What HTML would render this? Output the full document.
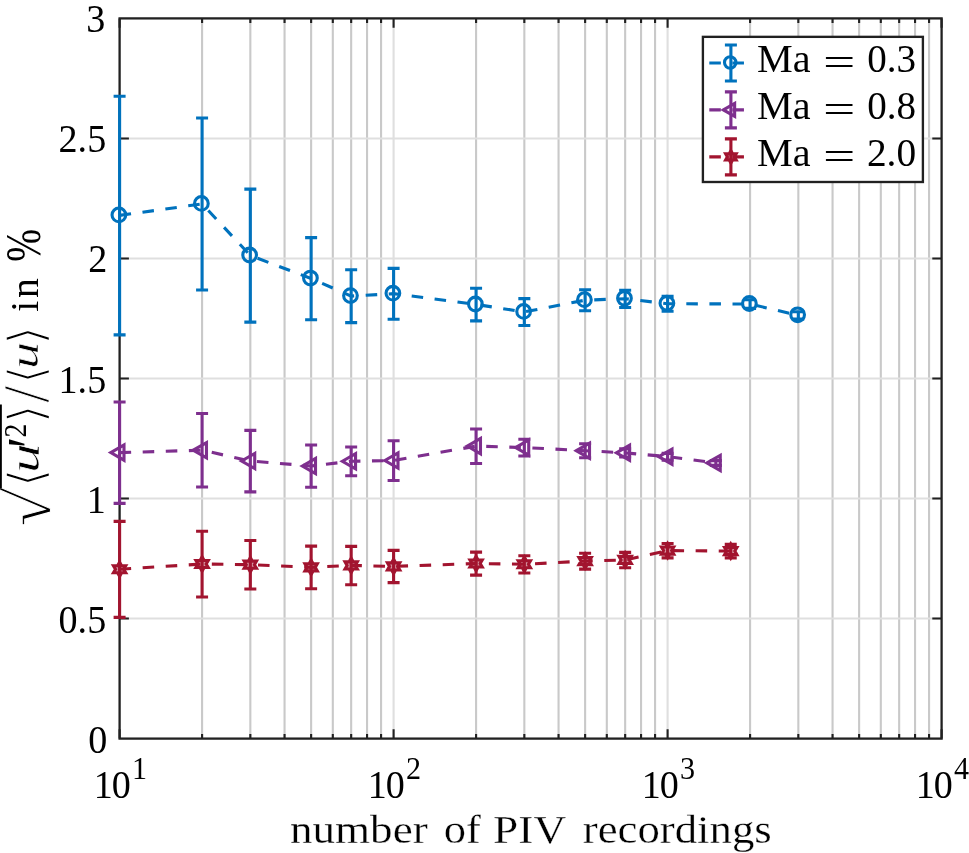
<!DOCTYPE html>
<html><head><meta charset="utf-8"><title>PIV convergence plot</title>
<style>html,body{margin:0;padding:0;background:#fff}svg{display:block}</style></head>
<body>
<svg width="969" height="853" viewBox="0 0 969 853">
<rect width="969" height="853" fill="#fff"/>
<path d="M202.08 18.4V738.6M250.33 18.4V738.6M284.56 18.4V738.6M311.12 18.4V738.6M332.81 18.4V738.6M351.16 18.4V738.6M367.05 18.4V738.6M381.06 18.4V738.6M476.08 18.4V738.6M524.33 18.4V738.6M558.56 18.4V738.6M585.12 18.4V738.6M606.81 18.4V738.6M625.16 18.4V738.6M641.05 18.4V738.6M655.06 18.4V738.6M750.08 18.4V738.6M798.33 18.4V738.6M832.56 18.4V738.6M859.12 18.4V738.6M880.81 18.4V738.6M899.16 18.4V738.6M915.05 18.4V738.6M929.06 18.4V738.6" stroke="#c9c9c9" stroke-width="2.1" fill="none"/>
<path d="M393.6 18.4V738.6M667.6 18.4V738.6M119.6 618.57H941.6M119.6 498.53H941.6M119.6 378.5H941.6M119.6 258.47H941.6M119.6 138.43H941.6" stroke="#dfdfdf" stroke-width="2.1" fill="none"/>
<path d="M202.08 738.6v-4.65M202.08 18.4v4.65M250.33 738.6v-4.65M250.33 18.4v4.65M284.56 738.6v-4.65M284.56 18.4v4.65M311.12 738.6v-4.65M311.12 18.4v4.65M332.81 738.6v-4.65M332.81 18.4v4.65M351.16 738.6v-4.65M351.16 18.4v4.65M367.05 738.6v-4.65M367.05 18.4v4.65M381.06 738.6v-4.65M381.06 18.4v4.65M476.08 738.6v-4.65M476.08 18.4v4.65M524.33 738.6v-4.65M524.33 18.4v4.65M558.56 738.6v-4.65M558.56 18.4v4.65M585.12 738.6v-4.65M585.12 18.4v4.65M606.81 738.6v-4.65M606.81 18.4v4.65M625.16 738.6v-4.65M625.16 18.4v4.65M641.05 738.6v-4.65M641.05 18.4v4.65M655.06 738.6v-4.65M655.06 18.4v4.65M750.08 738.6v-4.65M750.08 18.4v4.65M798.33 738.6v-4.65M798.33 18.4v4.65M832.56 738.6v-4.65M832.56 18.4v4.65M859.12 738.6v-4.65M859.12 18.4v4.65M880.81 738.6v-4.65M880.81 18.4v4.65M899.16 738.6v-4.65M899.16 18.4v4.65M915.05 738.6v-4.65M915.05 18.4v4.65M929.06 738.6v-4.65M929.06 18.4v4.65M119.6 738.6v-9.3M119.6 18.4v9.3M393.6 738.6v-9.3M393.6 18.4v9.3M667.6 738.6v-9.3M667.6 18.4v9.3M941.6 738.6v-9.3M941.6 18.4v9.3M119.6 618.57h9.3M941.6 618.57h-9.3M119.6 498.53h9.3M941.6 498.53h-9.3M119.6 378.5h9.3M941.6 378.5h-9.3M119.6 258.47h9.3M941.6 258.47h-9.3M119.6 138.43h9.3M941.6 138.43h-9.3" stroke="#212121" stroke-width="2.1" fill="none"/>
<rect x="119.6" y="18.4" width="822" height="720.2" fill="none" stroke="#212121" stroke-width="2.3"/>
<path d="M119.6 96.2V334.83M113.6 96.2H125.6M113.6 334.83H125.6M202.08 118.05V289.94M196.08 118.05H208.08M196.08 289.94H208.08M250.33 189.11V322.1M244.33 189.11H256.33M244.33 322.1H256.33M311.12 237.6V319.7M305.12 237.6H317.12M305.12 319.7H317.12M351.16 269.77V322.58M345.16 269.77H357.16M345.16 322.58H357.16M393.6 268.33V319.22M387.6 268.33H399.6M387.6 319.22H399.6M476.08 288.25V320.9M470.08 288.25H482.08M470.08 320.9H482.08M524.33 298.58V325.47M518.33 298.58H530.33M518.33 325.47H530.33M585.12 289.7V310.82M579.12 289.7H591.12M579.12 310.82H591.12M625.16 290.18V307.46M619.16 290.18H631.16M619.16 307.46H631.16M667.6 296.42V311.3M661.6 296.42H673.6M661.6 311.3H673.6M750.08 299.78V308.42M744.08 299.78H756.08M744.08 308.42H756.08M798.33 311.78V318.98M792.33 311.78H804.33M792.33 318.98H804.33" fill="none" stroke="#0072BD" stroke-width="3.1"/>
<polyline points="119.6,215.41 202.08,203.89 250.33,255.51 311.12,278.55 351.16,296.08 393.6,293.68 476.08,304.48 524.33,311.92 585.12,300.16 625.16,298.72 667.6,303.76 750.08,304 798.33,315.28" fill="none" stroke="#0072BD" stroke-width="3.1" stroke-dasharray="11.55 11.55"/>
<circle cx="118.9" cy="214.91" r="6.85" fill="none" stroke="#0072BD" stroke-width="3.1"/>
<circle cx="201.38" cy="203.39" r="6.85" fill="none" stroke="#0072BD" stroke-width="3.1"/>
<circle cx="249.63" cy="255.01" r="6.85" fill="none" stroke="#0072BD" stroke-width="3.1"/>
<circle cx="310.42" cy="278.05" r="6.85" fill="none" stroke="#0072BD" stroke-width="3.1"/>
<circle cx="350.46" cy="295.58" r="6.85" fill="none" stroke="#0072BD" stroke-width="3.1"/>
<circle cx="392.9" cy="293.18" r="6.85" fill="none" stroke="#0072BD" stroke-width="3.1"/>
<circle cx="475.38" cy="303.98" r="6.85" fill="none" stroke="#0072BD" stroke-width="3.1"/>
<circle cx="523.63" cy="311.42" r="6.85" fill="none" stroke="#0072BD" stroke-width="3.1"/>
<circle cx="584.42" cy="299.66" r="6.85" fill="none" stroke="#0072BD" stroke-width="3.1"/>
<circle cx="624.46" cy="298.22" r="6.85" fill="none" stroke="#0072BD" stroke-width="3.1"/>
<circle cx="666.9" cy="303.26" r="6.85" fill="none" stroke="#0072BD" stroke-width="3.1"/>
<circle cx="749.38" cy="303.5" r="6.85" fill="none" stroke="#0072BD" stroke-width="3.1"/>
<circle cx="797.63" cy="314.78" r="6.85" fill="none" stroke="#0072BD" stroke-width="3.1"/>
<path d="M119.6 402.05V503.35M113.6 402.05H125.6M113.6 503.35H125.6M202.08 413.57V487.03M196.08 413.57H208.08M196.08 487.03H208.08M250.33 430.37V491.83M244.33 430.37H256.33M244.33 491.83H256.33M311.12 445.02V487.27M305.12 445.02H317.12M305.12 487.27H317.12M351.16 446.94V475.75M345.16 446.94H357.16M345.16 475.75H357.16M393.6 440.7V480.55M387.6 440.7H399.6M387.6 480.55H399.6M476.08 428.93V463.5M470.08 428.93H482.08M470.08 463.5H482.08M524.33 439.26V456.06M518.33 439.26H530.33M518.33 456.06H530.33M585.12 443.82V457.74M579.12 443.82H591.12M579.12 457.74H591.12M625.16 448.86V457.02M619.16 448.86H631.16M619.16 457.02H631.16M667.6 453.42V460.14M661.6 453.42H673.6M661.6 460.14H673.6M715.85 460.62V465.42M709.85 460.62H721.85M709.85 465.42H721.85" fill="none" stroke="#7E2F8E" stroke-width="3.1"/>
<polyline points="119.6,452.6 202.08,450.2 250.33,461 311.12,466.04 351.16,461.24 393.6,460.52 476.08,446.12 524.33,447.56 585.12,450.68 625.16,452.84 667.6,456.68 715.85,462.92" fill="none" stroke="#7E2F8E" stroke-width="3.1" stroke-dasharray="11.55 11.55"/>
<path d="M110.8 452.6L124 445L124 460.2Z" fill="none" stroke="#7E2F8E" stroke-width="3.1" stroke-linejoin="miter"/>
<path d="M193.28 450.2L206.48 442.6L206.48 457.8Z" fill="none" stroke="#7E2F8E" stroke-width="3.1" stroke-linejoin="miter"/>
<path d="M241.53 461L254.73 453.4L254.73 468.6Z" fill="none" stroke="#7E2F8E" stroke-width="3.1" stroke-linejoin="miter"/>
<path d="M302.32 466.04L315.52 458.44L315.52 473.64Z" fill="none" stroke="#7E2F8E" stroke-width="3.1" stroke-linejoin="miter"/>
<path d="M342.36 461.24L355.56 453.64L355.56 468.84Z" fill="none" stroke="#7E2F8E" stroke-width="3.1" stroke-linejoin="miter"/>
<path d="M384.8 460.52L398 452.92L398 468.12Z" fill="none" stroke="#7E2F8E" stroke-width="3.1" stroke-linejoin="miter"/>
<path d="M467.28 446.12L480.48 438.52L480.48 453.72Z" fill="none" stroke="#7E2F8E" stroke-width="3.1" stroke-linejoin="miter"/>
<path d="M515.53 447.56L528.73 439.96L528.73 455.16Z" fill="none" stroke="#7E2F8E" stroke-width="3.1" stroke-linejoin="miter"/>
<path d="M576.32 450.68L589.52 443.08L589.52 458.28Z" fill="none" stroke="#7E2F8E" stroke-width="3.1" stroke-linejoin="miter"/>
<path d="M616.36 452.84L629.56 445.24L629.56 460.44Z" fill="none" stroke="#7E2F8E" stroke-width="3.1" stroke-linejoin="miter"/>
<path d="M658.8 456.68L672 449.08L672 464.28Z" fill="none" stroke="#7E2F8E" stroke-width="3.1" stroke-linejoin="miter"/>
<path d="M707.05 462.92L720.25 455.32L720.25 470.52Z" fill="none" stroke="#7E2F8E" stroke-width="3.1" stroke-linejoin="miter"/>
<path d="M119.6 521.36V617.39M113.6 521.36H125.6M113.6 617.39H125.6M202.08 531.2V596.98M196.08 531.2H208.08M196.08 596.98H208.08M250.33 540.56V589.06M244.33 540.56H256.33M244.33 589.06H256.33M311.12 546.09V588.82M305.12 546.09H317.12M305.12 588.82H317.12M351.16 546.33V584.74M345.16 546.33H357.16M345.16 584.74H357.16M393.6 550.41V582.58M387.6 550.41H399.6M387.6 582.58H399.6M476.08 552.09V575.13M470.08 552.09H482.08M470.08 575.13H482.08M524.33 555.69V572.97M518.33 555.69H530.33M518.33 572.97H530.33M585.12 553.29V569.13M579.12 553.29H591.12M579.12 569.13H591.12M625.16 552.33V567.69M619.16 552.33H631.16M619.16 567.69H631.16M667.6 543.45V557.85M661.6 543.45H673.6M661.6 557.85H673.6M730.74 544.41V557.85M724.74 544.41H736.74M724.74 557.85H736.74" fill="none" stroke="#A2142F" stroke-width="3.1"/>
<polyline points="119.6,569.27 202.08,563.99 250.33,564.71 311.12,567.35 351.16,565.43 393.6,566.39 476.08,563.51 524.33,564.23 585.12,561.11 625.16,559.91 667.6,550.55 730.74,551.03" fill="none" stroke="#A2142F" stroke-width="3.1" stroke-dasharray="11.55 11.55"/>
<path d="M119.6 562.17L121.65 565.72L125.75 565.72L123.7 569.27L125.75 572.82L121.65 572.82L119.6 576.37L117.55 572.82L113.45 572.82L115.5 569.27L113.45 565.72L117.55 565.72Z" fill="#A2142F" fill-opacity="0.45" stroke="#A2142F" stroke-width="3.1" stroke-linejoin="miter"/>
<path d="M202.08 556.89L204.13 560.44L208.23 560.44L206.18 563.99L208.23 567.54L204.13 567.54L202.08 571.09L200.03 567.54L195.93 567.54L197.98 563.99L195.93 560.44L200.03 560.44Z" fill="#A2142F" fill-opacity="0.45" stroke="#A2142F" stroke-width="3.1" stroke-linejoin="miter"/>
<path d="M250.33 557.61L252.38 561.16L256.48 561.16L254.43 564.71L256.48 568.26L252.38 568.26L250.33 571.81L248.28 568.26L244.18 568.26L246.23 564.71L244.18 561.16L248.28 561.16Z" fill="#A2142F" fill-opacity="0.45" stroke="#A2142F" stroke-width="3.1" stroke-linejoin="miter"/>
<path d="M311.12 560.25L313.17 563.8L317.27 563.8L315.22 567.35L317.27 570.9L313.17 570.9L311.12 574.45L309.07 570.9L304.97 570.9L307.02 567.35L304.97 563.8L309.07 563.8Z" fill="#A2142F" fill-opacity="0.45" stroke="#A2142F" stroke-width="3.1" stroke-linejoin="miter"/>
<path d="M351.16 558.33L353.21 561.88L357.31 561.88L355.26 565.43L357.31 568.98L353.21 568.98L351.16 572.53L349.11 568.98L345.01 568.98L347.06 565.43L345.01 561.88L349.11 561.88Z" fill="#A2142F" fill-opacity="0.45" stroke="#A2142F" stroke-width="3.1" stroke-linejoin="miter"/>
<path d="M393.6 559.29L395.65 562.84L399.75 562.84L397.7 566.39L399.75 569.94L395.65 569.94L393.6 573.49L391.55 569.94L387.45 569.94L389.5 566.39L387.45 562.84L391.55 562.84Z" fill="#A2142F" fill-opacity="0.45" stroke="#A2142F" stroke-width="3.1" stroke-linejoin="miter"/>
<path d="M476.08 556.41L478.13 559.96L482.23 559.96L480.18 563.51L482.23 567.06L478.13 567.06L476.08 570.61L474.03 567.06L469.93 567.06L471.98 563.51L469.93 559.96L474.03 559.96Z" fill="#A2142F" fill-opacity="0.45" stroke="#A2142F" stroke-width="3.1" stroke-linejoin="miter"/>
<path d="M524.33 557.13L526.38 560.68L530.48 560.68L528.43 564.23L530.48 567.78L526.38 567.78L524.33 571.33L522.28 567.78L518.18 567.78L520.23 564.23L518.18 560.68L522.28 560.68Z" fill="#A2142F" fill-opacity="0.45" stroke="#A2142F" stroke-width="3.1" stroke-linejoin="miter"/>
<path d="M585.12 554.01L587.17 557.56L591.27 557.56L589.22 561.11L591.27 564.66L587.17 564.66L585.12 568.21L583.07 564.66L578.97 564.66L581.02 561.11L578.97 557.56L583.07 557.56Z" fill="#A2142F" fill-opacity="0.45" stroke="#A2142F" stroke-width="3.1" stroke-linejoin="miter"/>
<path d="M625.16 552.81L627.21 556.36L631.31 556.36L629.26 559.91L631.31 563.46L627.21 563.46L625.16 567.01L623.11 563.46L619.01 563.46L621.06 559.91L619.01 556.36L623.11 556.36Z" fill="#A2142F" fill-opacity="0.45" stroke="#A2142F" stroke-width="3.1" stroke-linejoin="miter"/>
<path d="M667.6 543.45L669.65 547L673.75 547L671.7 550.55L673.75 554.1L669.65 554.1L667.6 557.65L665.55 554.1L661.45 554.1L663.5 550.55L661.45 547L665.55 547Z" fill="#A2142F" fill-opacity="0.45" stroke="#A2142F" stroke-width="3.1" stroke-linejoin="miter"/>
<path d="M730.74 543.93L732.79 547.48L736.89 547.48L734.84 551.03L736.89 554.58L732.79 554.58L730.74 558.13L728.69 554.58L724.59 554.58L726.64 551.03L724.59 547.48L728.69 547.48Z" fill="#A2142F" fill-opacity="0.45" stroke="#A2142F" stroke-width="3.1" stroke-linejoin="miter"/>
<g font-family="'Liberation Serif', 'DejaVu Serif', serif" font-size="39.2" fill="#000">
<text transform="translate(107.2 752.6) scale(0.972 1)" text-anchor="end">0</text>
<text transform="translate(106.2 632.57) scale(0.972 1)" text-anchor="end">0.5</text>
<text transform="translate(105.7 512.53) scale(0.972 1)" text-anchor="end">1</text>
<text transform="translate(106.2 392.5) scale(0.972 1)" text-anchor="end">1.5</text>
<text transform="translate(107.4 272.47) scale(0.972 1)" text-anchor="end">2</text>
<text transform="translate(106.2 152.43) scale(0.972 1)" text-anchor="end">2.5</text>
<text transform="translate(105.4 32.4) scale(0.972 1)" text-anchor="end">3</text>
<text transform="translate(93.8 797.9) scale(0.972 1)" letter-spacing="-1">10<tspan font-size="31" dy="-19.1" dx="2.2">1</tspan></text>
<text transform="translate(367.8 797.9) scale(0.972 1)" letter-spacing="-1">10<tspan font-size="31" dy="-19.1" dx="2.2">2</tspan></text>
<text transform="translate(641.8 797.9) scale(0.972 1)" letter-spacing="-1">10<tspan font-size="31" dy="-19.1" dx="2.2">3</tspan></text>
<text transform="translate(915.8 797.9) scale(0.972 1)" letter-spacing="-1">10<tspan font-size="31" dy="-19.1" dx="2.2">4</tspan></text>
</g>
<g font-family="'Liberation Serif', 'DejaVu Serif', serif" font-size="39.6" fill="#000" stroke="#fff" stroke-width="0.3">
<text transform="translate(289.9 843.4) scale(1.1394 1)">number</text>
<text transform="translate(443.76 843.4) scale(1.1255 1)">of</text>
<text transform="translate(492.99 843.4) scale(1.1474 1)">PIV</text>
<text transform="translate(582.8 843.4) scale(1.1306 1)">recordings</text>
</g>
<g transform="rotate(-90)" font-family="'Liberation Serif', 'DejaVu Serif', serif" font-size="39.6" fill="#000">
<text transform="matrix(1.2923 0 -0.1267 1.2242 -529.03 50.35)" font-size="52" stroke="#fff" stroke-width="0.8">√</text>
<path d="M-488.2 0.9H-404.5" stroke="#000" stroke-width="1.9" fill="none"/>
<text transform="translate(-487.36 43.06) scale(1.1809 1.1990)" font-family="'DejaVu Serif', 'DejaVu Sans', serif" font-size="41" stroke="#fff" stroke-width="1.5">⟨</text>
<text transform="translate(-473.28 39.04) scale(1.4640 1.0797)" font-family="'Liberation Serif', 'DejaVu Serif', serif" font-size="41" font-style="italic" stroke="#fff" stroke-width="0.55">u</text>
<text transform="translate(-448.31 51.74) scale(1.3008 1.5880)" font-family="'Liberation Serif', 'DejaVu Serif', serif" font-size="41">′</text>
<text transform="translate(-437.42 26.20) scale(0.8650 1.0008)" font-family="'Liberation Serif', 'DejaVu Serif', serif" font-size="32">2</text>
<text transform="translate(-423.50 43.06) scale(1.2030 1.1990)" font-family="'DejaVu Serif', 'DejaVu Sans', serif" font-size="41" stroke="#fff" stroke-width="1.5">⟩</text>
<text transform="translate(-402.80 48.45) scale(1.0192 1.0837)" font-family="'Liberation Serif', 'DejaVu Serif', serif" font-size="60" stroke="#fff" stroke-width="0.8">/</text>
<text transform="translate(-383.64 42.85) scale(1.1478 1.2017)" font-family="'DejaVu Serif', 'DejaVu Sans', serif" font-size="41" stroke="#fff" stroke-width="1.5">⟨</text>
<text transform="translate(-368.89 38.46) scale(1.3226 1.0486)" font-family="'Liberation Serif', 'DejaVu Serif', serif" font-size="41" font-style="italic" stroke="#fff" stroke-width="0.55">u</text>
<text transform="translate(-345.10 42.85) scale(1.2030 1.2017)" font-family="'DejaVu Serif', 'DejaVu Sans', serif" font-size="41" stroke="#fff" stroke-width="1.5">⟩</text>
<text x="-311.7" y="37.9" textLength="33.4" lengthAdjust="spacing">in</text>
<text transform="translate(-261.74 39.74) scale(0.9597 1.2339)" font-family="'Liberation Serif', 'DejaVu Serif', serif" font-size="41">%</text>
</g>
<rect x="702.9" y="36.85" width="220" height="145.15" fill="#fff" stroke="#212121" stroke-width="2.35"/>
<path d="M730.9 45V81M724.9 45H736.9M724.9 81H736.9" stroke="#0072BD" stroke-width="3.1" fill="none"/>
<path d="M709.3 63H752.5" stroke="#0072BD" stroke-width="3.1" stroke-dasharray="11.55 11.55" fill="none"/>
<circle cx="730.2" cy="62.5" r="5.7" fill="none" stroke="#0072BD" stroke-width="3.1"/>
<g font-family="'Liberation Serif', 'DejaVu Serif', serif" font-size="39.4" fill="#000">
<text transform="translate(757 71.6) scale(1.0199 1)">Ma</text>
<text transform="translate(823.11 75.50) scale(1.4683 1.0051)" font-family="'Liberation Serif', 'DejaVu Serif', serif" font-size="39.4" stroke="#fff" stroke-width="0.2">=</text>
<text transform="translate(867.33 71.6) scale(0.9918 1)">0.3</text>
</g>
<path d="M730.9 91.9V127.9M724.9 91.9H736.9M724.9 127.9H736.9" stroke="#7E2F8E" stroke-width="3.1" fill="none"/>
<path d="M709.3 109.9H752.5" stroke="#7E2F8E" stroke-width="3.1" stroke-dasharray="11.55 11.55" fill="none"/>
<path d="M723.42 109.9L734.64 103.44L734.64 116.36Z" fill="none" stroke="#7E2F8E" stroke-width="3.1" stroke-linejoin="miter"/>
<g font-family="'Liberation Serif', 'DejaVu Serif', serif" font-size="39.4" fill="#000">
<text transform="translate(757 118.8) scale(1.0199 1)">Ma</text>
<text transform="translate(823.11 122.70) scale(1.4683 1.0051)" font-family="'Liberation Serif', 'DejaVu Serif', serif" font-size="39.4" stroke="#fff" stroke-width="0.2">=</text>
<text transform="translate(867.33 118.8) scale(0.9918 1)">0.8</text>
</g>
<path d="M730.9 138.9V174.9M724.9 138.9H736.9M724.9 174.9H736.9" stroke="#A2142F" stroke-width="3.1" fill="none"/>
<path d="M709.3 156.9H752.5" stroke="#A2142F" stroke-width="3.1" stroke-dasharray="11.55 11.55" fill="none"/>
<path d="M730.9 150.87L732.64 153.88L736.13 153.88L734.38 156.9L736.13 159.92L732.64 159.92L730.9 162.94L729.16 159.92L725.67 159.92L727.42 156.9L725.67 153.88L729.16 153.88Z" fill="#A2142F" fill-opacity="0.45" stroke="#A2142F" stroke-width="3.1" stroke-linejoin="miter"/>
<g font-family="'Liberation Serif', 'DejaVu Serif', serif" font-size="39.4" fill="#000">
<text transform="translate(757 166) scale(1.0199 1)">Ma</text>
<text transform="translate(823.11 169.90) scale(1.4683 1.0051)" font-family="'Liberation Serif', 'DejaVu Serif', serif" font-size="39.4" stroke="#fff" stroke-width="0.2">=</text>
<text transform="translate(866.92 166) scale(1.0002 1)">2.0</text>
</g>
</svg>
</body></html>
